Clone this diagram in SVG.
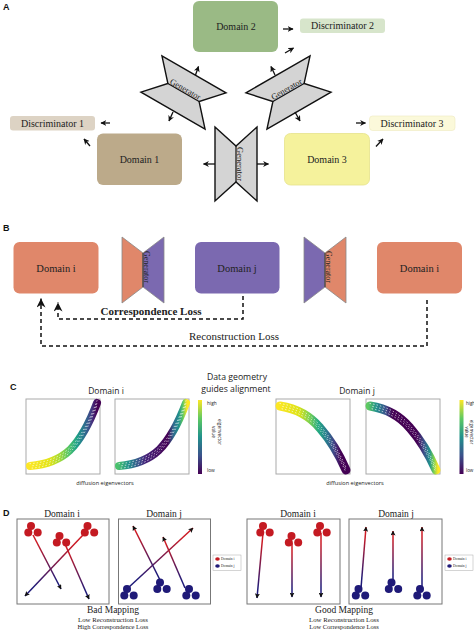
<svg xmlns="http://www.w3.org/2000/svg" width="474" height="631" viewBox="0 0 474 631">
<style>
.serif{font-family:"Liberation Serif","Times New Roman",serif;fill:#222}
.sans{font-family:"Open Sans","Noto Sans","Liberation Sans",sans-serif;fill:#222}
.lab{font-family:"Liberation Sans",Arial,sans-serif;font-weight:bold;font-size:9px;fill:#111}
.gen{fill:#d4d4d4;stroke:#111;stroke-width:1.4;stroke-linejoin:miter}
.arr{stroke:#111;stroke-width:1.3;fill:none;marker-end:url(#ah)}
.dash{stroke:#111;stroke-width:1.5;fill:none;stroke-dasharray:4 3}
.plot{fill:#fff;stroke:#aaa;stroke-width:1}
.dbox{fill:#fff;stroke:#777;stroke-width:1}
.red{fill:#c41a22}
.blue{fill:#1f1a78}
.speck{fill:none;stroke:#fff;stroke-width:0.9;stroke-dasharray:0.6 2.9;stroke-linecap:round;opacity:0.8}
.rs{stop-color:#cc1a24}
.bs{stop-color:#1f1a78}
</style>
<defs>
<marker id="ah" viewBox="0 0 10 10" refX="9" refY="5" markerWidth="6" markerHeight="6" markerUnits="userSpaceOnUse" orient="auto"><path d="M0,0 L10,5 L0,10 L3,5 Z" fill="#111"/></marker>
<marker id="ahb" viewBox="0 0 10 10" refX="10" refY="5" markerWidth="9" markerHeight="9" markerUnits="userSpaceOnUse" orient="auto"><path d="M0,0 L10,5 L0,10 L3,5 Z" fill="#111"/></marker>
<marker id="ahd" viewBox="0 0 10 10" refX="9" refY="5" markerWidth="5" markerHeight="5" markerUnits="userSpaceOnUse" orient="auto"><path d="M0,0 L10,5 L0,10 L2,5 Z" fill="#111"/></marker>
<linearGradient id="cbar" x1="0" y1="0" x2="0" y2="1"><stop offset="0" stop-color="#fde725"/><stop offset="0.25" stop-color="#5ec962"/><stop offset="0.5" stop-color="#21918c"/><stop offset="0.75" stop-color="#3b528b"/><stop offset="1" stop-color="#440154"/></linearGradient>
<linearGradient id="bi1" gradientUnits="userSpaceOnUse" x1="29" y1="0" x2="97" y2="0"><stop offset="0" stop-color="#fde725"/><stop offset="0.3" stop-color="#e2e418"/><stop offset="0.45" stop-color="#a5db36"/><stop offset="0.6" stop-color="#4ac16d"/><stop offset="0.7" stop-color="#1fa187"/><stop offset="0.78" stop-color="#277f8e"/><stop offset="0.86" stop-color="#365c8d"/><stop offset="0.93" stop-color="#46327e"/><stop offset="1" stop-color="#440154"/></linearGradient>
<linearGradient id="bi2" gradientUnits="userSpaceOnUse" x1="118" y1="0" x2="187" y2="0"><stop offset="0" stop-color="#4ac16d"/><stop offset="0.15" stop-color="#21918c"/><stop offset="0.3" stop-color="#3b528b"/><stop offset="0.4" stop-color="#46247a"/><stop offset="0.72" stop-color="#440154"/><stop offset="0.8" stop-color="#31688e"/><stop offset="0.88" stop-color="#21918c"/><stop offset="0.94" stop-color="#5ec962"/><stop offset="1" stop-color="#fde725"/></linearGradient>
<linearGradient id="bj1" gradientUnits="userSpaceOnUse" x1="278" y1="0" x2="348" y2="0"><stop offset="0" stop-color="#fde725"/><stop offset="0.3" stop-color="#dde318"/><stop offset="0.45" stop-color="#7ad151"/><stop offset="0.58" stop-color="#22a884"/><stop offset="0.7" stop-color="#2a788e"/><stop offset="0.8" stop-color="#414487"/><stop offset="0.9" stop-color="#440154"/><stop offset="1" stop-color="#440154"/></linearGradient>
<linearGradient id="bj2" gradientUnits="userSpaceOnUse" x1="368" y1="0" x2="438" y2="0"><stop offset="0" stop-color="#5ec962"/><stop offset="0.12" stop-color="#21918c"/><stop offset="0.25" stop-color="#3b528b"/><stop offset="0.35" stop-color="#440154"/><stop offset="0.7" stop-color="#440154"/><stop offset="0.8" stop-color="#3b528b"/><stop offset="0.88" stop-color="#21918c"/><stop offset="0.94" stop-color="#7ad151"/><stop offset="1" stop-color="#fde725"/></linearGradient>
<linearGradient id="g1" gradientUnits="userSpaceOnUse" x1="33" y1="535" x2="61" y2="589"><stop offset="0.15" class="rs"/><stop offset="0.85" class="bs"/></linearGradient>
<linearGradient id="g2" gradientUnits="userSpaceOnUse" x1="65" y1="544" x2="89" y2="599"><stop offset="0.15" class="rs"/><stop offset="0.85" class="bs"/></linearGradient>
<linearGradient id="g3" gradientUnits="userSpaceOnUse" x1="83" y1="535" x2="25" y2="596"><stop offset="0.15" class="rs"/><stop offset="0.85" class="bs"/></linearGradient>
<linearGradient id="g4" gradientUnits="userSpaceOnUse" x1="128" y1="588" x2="193" y2="528"><stop offset="0.15" class="bs"/><stop offset="0.85" class="rs"/></linearGradient>
<linearGradient id="g5" gradientUnits="userSpaceOnUse" x1="160" y1="580" x2="133" y2="526"><stop offset="0.15" class="bs"/><stop offset="0.85" class="rs"/></linearGradient>
<linearGradient id="g6" gradientUnits="userSpaceOnUse" x1="185" y1="588" x2="163" y2="537"><stop offset="0.15" class="bs"/><stop offset="0.85" class="rs"/></linearGradient>
<linearGradient id="g7" gradientUnits="userSpaceOnUse" x1="263" y1="533" x2="257" y2="598"><stop offset="0.15" class="rs"/><stop offset="0.85" class="bs"/></linearGradient>
<linearGradient id="g8" gradientUnits="userSpaceOnUse" x1="292" y1="543" x2="292" y2="597"><stop offset="0.15" class="rs"/><stop offset="0.85" class="bs"/></linearGradient>
<linearGradient id="g9" gradientUnits="userSpaceOnUse" x1="321" y1="533" x2="321" y2="597"><stop offset="0.15" class="rs"/><stop offset="0.85" class="bs"/></linearGradient>
<linearGradient id="g10" gradientUnits="userSpaceOnUse" x1="361" y1="588" x2="366" y2="527"><stop offset="0.15" class="bs"/><stop offset="0.85" class="rs"/></linearGradient>
<linearGradient id="g11" gradientUnits="userSpaceOnUse" x1="393" y1="582" x2="393" y2="531"><stop offset="0.15" class="bs"/><stop offset="0.85" class="rs"/></linearGradient>
<linearGradient id="g12" gradientUnits="userSpaceOnUse" x1="422" y1="588" x2="422" y2="527"><stop offset="0.15" class="bs"/><stop offset="0.85" class="rs"/></linearGradient>
<polygon id="genA" points="-21,-37 0,-18 21,-37 21,37 0,18 -21,37"/>
<g id="c3">
<circle cx="0" cy="0" r="4"/><circle cx="-2.7" cy="6.4" r="4"/><circle cx="6.7" cy="6.4" r="4"/>
</g>
</defs>
<rect width="474" height="631" fill="#fff"/>

<!-- Panel labels -->
<text class="lab" x="3" y="10">A</text>
<text class="lab" x="3" y="231">B</text>
<text class="lab" x="10" y="390">C</text>
<text class="lab" x="3" y="516">D</text>

<!-- ===== Panel A ===== -->
<g id="a-domain2"><rect x="193" y="1" width="85" height="51" rx="6" fill="#9aba85"/><text class="serif" x="236" y="29.5" font-size="10" text-anchor="middle">Domain 2</text></g>
<g id="a-disc2"><rect x="300" y="18.5" width="85" height="14.5" rx="3" fill="#d7e5cb"/><text class="serif" x="342.5" y="29" font-size="10" text-anchor="middle">Discriminator 2</text></g>
<g id="a-domain1"><rect x="97" y="133.5" width="85" height="51.5" rx="6" fill="#bcaa8a"/><text class="serif" x="139.5" y="163" font-size="10" text-anchor="middle">Domain 1</text></g>
<g id="a-disc1"><rect x="10" y="116" width="85" height="14.5" rx="3" fill="#ddd3c4"/><text class="serif" x="52.5" y="126.5" font-size="10" text-anchor="middle">Discriminator 1</text></g>
<g id="a-domain3"><rect x="284.5" y="133.5" width="85" height="51.5" rx="6" fill="#f5f29c" stroke="#e6e28c" stroke-width="0.8"/><text class="serif" x="327" y="163" font-size="10" text-anchor="middle">Domain 3</text></g>
<g id="a-disc3"><rect x="369.5" y="116" width="85.5" height="14.5" rx="3" fill="#fbf9da" stroke="#eeeac0" stroke-width="0.6"/><text class="serif" x="412" y="126.5" font-size="10" text-anchor="middle">Discriminator 3</text></g>

<g id="a-gen-left" transform="translate(183.5,92.5) rotate(-60)">
<use href="#genA" class="gen"/><line x1="0" y1="-18" x2="0" y2="18" stroke="#111" stroke-width="1.2"/>
<text class="serif" transform="rotate(90)" x="0" y="-1" font-size="8.5" text-anchor="middle" fill="#333">Generator</text>
</g>
<g id="a-gen-right" transform="translate(288.5,92.5) rotate(60)">
<use href="#genA" class="gen"/><line x1="0" y1="-18" x2="0" y2="18" stroke="#111" stroke-width="1.2"/>
<text class="serif" transform="rotate(-90)" x="0" y="-1" font-size="8.5" text-anchor="middle" fill="#333">Generator</text>
</g>
<g id="a-gen-bottom" transform="translate(236,164)">
<use href="#genA" class="gen"/><line x1="0" y1="-18" x2="0" y2="18" stroke="#111" stroke-width="1.2"/>
<text class="serif" transform="rotate(90)" x="0" y="-1" font-size="8.5" text-anchor="middle" fill="#333">Generator</text>
</g>

<g id="a-connectors">
<line class="arr" x1="283" y1="29" x2="293" y2="29"/>
<line class="arr" x1="285" y1="53" x2="293.5" y2="48"/>
<line class="arr" x1="195.5" y1="75" x2="198.5" y2="66.5"/>
<line class="arr" x1="275" y1="75" x2="271" y2="66.5"/>
<line class="arr" x1="173" y1="112" x2="169" y2="121"/>
<line class="arr" x1="295" y1="112" x2="300" y2="121"/>
<line class="arr" x1="215" y1="164" x2="203.5" y2="164"/>
<line class="arr" x1="257" y1="164" x2="268.5" y2="164"/>
<line class="arr" x1="110" y1="123" x2="101" y2="123"/>
<line class="arr" x1="90" y1="146" x2="84" y2="139"/>
<line class="arr" x1="356" y1="123" x2="365.5" y2="123"/>
<line class="arr" x1="376" y1="146.5" x2="383" y2="139"/>
</g>

<!-- ===== Panel B ===== -->
<g id="b-domain-i-left"><rect x="13.5" y="242" width="85" height="51.5" rx="6" fill="#e0876a"/><text class="serif" x="56" y="271.5" font-size="10.5" text-anchor="middle">Domain i</text></g>
<g id="b-gen1" transform="translate(143,270)">
<polygon points="-21,-33 0,-17 0,17 -21,33" fill="#e0876a" stroke="#888" stroke-width="0.8"/>
<polygon points="0,-17 21,-33 21,33 0,17" fill="#7b69b0" stroke="#888" stroke-width="0.8"/>
<line x1="0" y1="-17" x2="0" y2="17" stroke="#333" stroke-width="1"/>
<text class="serif" transform="rotate(90)" x="-3" y="-1" font-size="8" text-anchor="middle" fill="#333">Generator</text>
</g>
<g id="b-domain-j"><rect x="195" y="242" width="84.5" height="51.5" rx="6" fill="#7b69b0"/><text class="serif" x="237" y="271.5" font-size="10.5" text-anchor="middle">Domain j</text></g>
<g id="b-gen2" transform="translate(325,270)">
<polygon points="-21,-33 0,-17 0,17 -21,33" fill="#7b69b0" stroke="#888" stroke-width="0.8"/>
<polygon points="0,-17 21,-33 21,33 0,17" fill="#e0876a" stroke="#888" stroke-width="0.8"/>
<line x1="0" y1="-17" x2="0" y2="17" stroke="#333" stroke-width="1"/>
<text class="serif" transform="rotate(90)" x="-3" y="-1" font-size="8" text-anchor="middle" fill="#333">Generator</text>
</g>
<g id="b-domain-i-right"><rect x="377" y="242" width="85" height="51.5" rx="6" fill="#e0876a"/><text class="serif" x="419.5" y="271.5" font-size="10.5" text-anchor="middle">Domain i</text></g>

<g id="b-connectors">
<path class="dash" d="M243,296 V319 H58 V302.5" marker-end="url(#ahb)"/>
<path class="dash" d="M427,300 V346 H41 V298.5" marker-end="url(#ahb)"/>
<text class="serif" x="151" y="315" font-size="11" font-weight="bold" text-anchor="middle" fill="#111">Correspondence Loss</text>
<text class="serif" x="234" y="340" font-size="11" text-anchor="middle">Reconstruction Loss</text>
</g>

<!-- ===== Panel C ===== -->
<g id="c-title">
<text class="sans" x="237" y="380" font-size="8.7" text-anchor="middle">Data geometry</text>
<text class="sans" x="236" y="392" font-size="8.7" text-anchor="middle">guides alignment</text>
</g>
<g id="c-domain-i">
<text class="sans" x="106" y="394" font-size="8.5" text-anchor="middle">Domain i</text>
<rect class="plot" x="26" y="399" width="74" height="75"/>
<rect class="plot" x="115" y="399" width="74" height="75"/>
<path d="M30,466 Q55,464 70,450 Q85,435 97,403" fill="none" stroke="url(#bi1)" stroke-width="8" stroke-linecap="round"/>
<path class="speck" d="M30,466 Q55,464 70,450 Q85,435 97,403" transform="translate(0,-2.3)"/>
<path class="speck" d="M30,466 Q55,464 70,450 Q85,435 97,403" transform="translate(0,2.3)" stroke-dashoffset="1.5"/>
<path class="speck" d="M30,466 Q55,464 70,450 Q85,435 97,403" stroke-dashoffset="0.8"/>
<path d="M119,466 Q144,464 159,450 Q174,435 186,403" fill="none" stroke="url(#bi2)" stroke-width="8" stroke-linecap="round"/>
<path class="speck" d="M119,466 Q144,464 159,450 Q174,435 186,403" transform="translate(0,-2.3)"/>
<path class="speck" d="M119,466 Q144,464 159,450 Q174,435 186,403" transform="translate(0,2.3)" stroke-dashoffset="1.5"/>
<path class="speck" d="M119,466 Q144,464 159,450 Q174,435 186,403" stroke-dashoffset="0.8"/>
<rect x="198" y="400" width="4" height="74" fill="url(#cbar)"/>
<text class="sans" x="207" y="405" font-size="4.8">high</text>
<text class="sans" x="207" y="472" font-size="4.8">low</text>
<text class="sans" transform="translate(218,432) rotate(90)" x="0" y="0" font-size="4.8" text-anchor="middle">eigenvector</text>
<text class="sans" transform="translate(212,432) rotate(90)" x="0" y="0" font-size="4.8" text-anchor="middle">value</text>
<text class="sans" x="105" y="485" font-size="5.6" text-anchor="middle">diffusion eigenvectors</text>
</g>
<g id="c-domain-j">
<text class="sans" x="357" y="394" font-size="8.5" text-anchor="middle">Domain j</text>
<rect class="plot" x="276" y="399" width="74" height="75"/>
<rect class="plot" x="366" y="399" width="74" height="75"/>
<path d="M280,406 Q305,410 320,428 Q335,445 346,470" fill="none" stroke="url(#bj1)" stroke-width="9" stroke-linecap="round"/>
<path class="speck" d="M280,406 Q305,410 320,428 Q335,445 346,470" transform="translate(0,-2.5)"/>
<path class="speck" d="M280,406 Q305,410 320,428 Q335,445 346,470" transform="translate(0,2.5)" stroke-dashoffset="1.5"/>
<path class="speck" d="M280,406 Q305,410 320,428 Q335,445 346,470" stroke-dashoffset="0.8"/>
<path d="M370,406 Q395,410 410,428 Q425,445 436,470" fill="none" stroke="url(#bj2)" stroke-width="9" stroke-linecap="round"/>
<path class="speck" d="M370,406 Q395,410 410,428 Q425,445 436,470" transform="translate(0,-2.5)"/>
<path class="speck" d="M370,406 Q395,410 410,428 Q425,445 436,470" transform="translate(0,2.5)" stroke-dashoffset="1.5"/>
<path class="speck" d="M370,406 Q395,410 410,428 Q425,445 436,470" stroke-dashoffset="0.8"/>
<rect x="459.5" y="400" width="4" height="74" fill="url(#cbar)"/>
<text class="sans" x="466" y="405" font-size="4.5">high</text>
<text class="sans" x="466" y="472" font-size="4.5">low</text>
<text class="sans" transform="translate(469.5,432) rotate(90)" x="0" y="0" font-size="4.5" text-anchor="middle">eigenvector</text>
<text class="sans" transform="translate(464.5,432) rotate(90)" x="0" y="0" font-size="4.5" text-anchor="middle">value</text>
<text class="sans" x="355" y="485" font-size="5.6" text-anchor="middle">diffusion eigenvectors</text>
</g>

<!-- ===== Panel D ===== -->
<g id="d-bad-i">
<text class="serif" x="62" y="517" font-size="9.5" text-anchor="middle">Domain i</text>
<rect class="dbox" x="17" y="519" width="92" height="85"/>
</g>
<g id="d-bad-j">
<text class="serif" x="164" y="517" font-size="9.5" text-anchor="middle">Domain j</text>
<rect class="dbox" x="118.5" y="519" width="92" height="85"/>
</g>
<g id="d-good-i">
<text class="serif" x="298" y="517" font-size="9.5" text-anchor="middle">Domain i</text>
<rect class="dbox" x="247" y="519" width="93" height="85"/>
</g>
<g id="d-good-j">
<text class="serif" x="396" y="517" font-size="9.5" text-anchor="middle">Domain j</text>
<rect class="dbox" x="349" y="519" width="93" height="85"/>
</g>

<g id="d-connectors" stroke-width="1.5" fill="none">
<line x1="33" y1="535" x2="61" y2="589" stroke="url(#g1)" marker-end="url(#ahd)"/>
<line x1="65" y1="544" x2="89" y2="599" stroke="url(#g2)" marker-end="url(#ahd)"/>
<line x1="83" y1="535" x2="25" y2="596" stroke="url(#g3)" marker-end="url(#ahd)"/>
<line x1="128" y1="588" x2="193" y2="528" stroke="url(#g4)" marker-end="url(#ahd)"/>
<line x1="160" y1="580" x2="133" y2="526" stroke="url(#g5)" marker-end="url(#ahd)"/>
<line x1="185" y1="588" x2="163" y2="537" stroke="url(#g6)" marker-end="url(#ahd)"/>
<line x1="263" y1="533" x2="257" y2="598" stroke="url(#g7)" marker-end="url(#ahd)"/>
<line x1="292" y1="543" x2="292" y2="597" stroke="url(#g8)" marker-end="url(#ahd)"/>
<line x1="321" y1="533" x2="321" y2="597" stroke="url(#g9)" marker-end="url(#ahd)"/>
<line x1="361" y1="588" x2="366" y2="527" stroke="url(#g10)" marker-end="url(#ahd)"/>
<line x1="393" y1="582" x2="393" y2="531" stroke="url(#g11)" marker-end="url(#ahd)"/>
<line x1="422" y1="588" x2="422" y2="527" stroke="url(#g12)" marker-end="url(#ahd)"/>
</g>

<g id="d-clusters">
<use href="#c3" class="red" x="31" y="526"/>
<use href="#c3" class="red" x="59.5" y="536"/>
<use href="#c3" class="red" x="87.5" y="526"/>
<use href="#c3" class="blue" x="127" y="589"/>
<use href="#c3" class="blue" x="160" y="582.5"/>
<use href="#c3" class="blue" x="189" y="589"/>
<use href="#c3" class="red" x="263" y="526"/>
<use href="#c3" class="red" x="291.5" y="536"/>
<use href="#c3" class="red" x="320" y="526"/>
<use href="#c3" class="blue" x="358.5" y="589"/>
<use href="#c3" class="blue" x="391.5" y="582.5"/>
<use href="#c3" class="blue" x="420" y="589"/>
</g>

<g id="d-legend-1">
<rect x="213" y="555" width="28" height="15.5" fill="#fff" stroke="#aaa" stroke-width="0.5"/>
<ellipse cx="217.5" cy="559" rx="2.3" ry="1.8" class="red"/>
<ellipse cx="217.5" cy="566" rx="2.3" ry="1.8" class="blue"/>
<text class="serif" x="221" y="560.3" font-size="3.6">Domain i</text>
<text class="serif" x="221" y="567.3" font-size="3.6">Domain j</text>
</g>
<g id="d-legend-2">
<rect x="445" y="555" width="28" height="15.5" fill="#fff" stroke="#aaa" stroke-width="0.5"/>
<ellipse cx="449.5" cy="559" rx="2.3" ry="1.8" class="red"/>
<ellipse cx="449.5" cy="566" rx="2.3" ry="1.8" class="blue"/>
<text class="serif" x="453" y="560.3" font-size="3.6">Domain i</text>
<text class="serif" x="453" y="567.3" font-size="3.6">Domain j</text>
</g>

<g id="d-captions">
<text class="serif" x="113" y="613" font-size="9.5" text-anchor="middle">Bad Mapping</text>
<text class="serif" x="113" y="621.5" font-size="6.8" text-anchor="middle">Low Reconstruction Loss</text>
<text class="serif" x="113" y="628.5" font-size="6.5" text-anchor="middle">High Correspondence Loss</text>
<text class="serif" x="344" y="613" font-size="9.5" text-anchor="middle">Good Mapping</text>
<text class="serif" x="344" y="621.5" font-size="6.8" text-anchor="middle">Low Reconstruction Loss</text>
<text class="serif" x="344" y="628.5" font-size="6.5" text-anchor="middle">Low Correspondence Loss</text>
</g>
</svg>
